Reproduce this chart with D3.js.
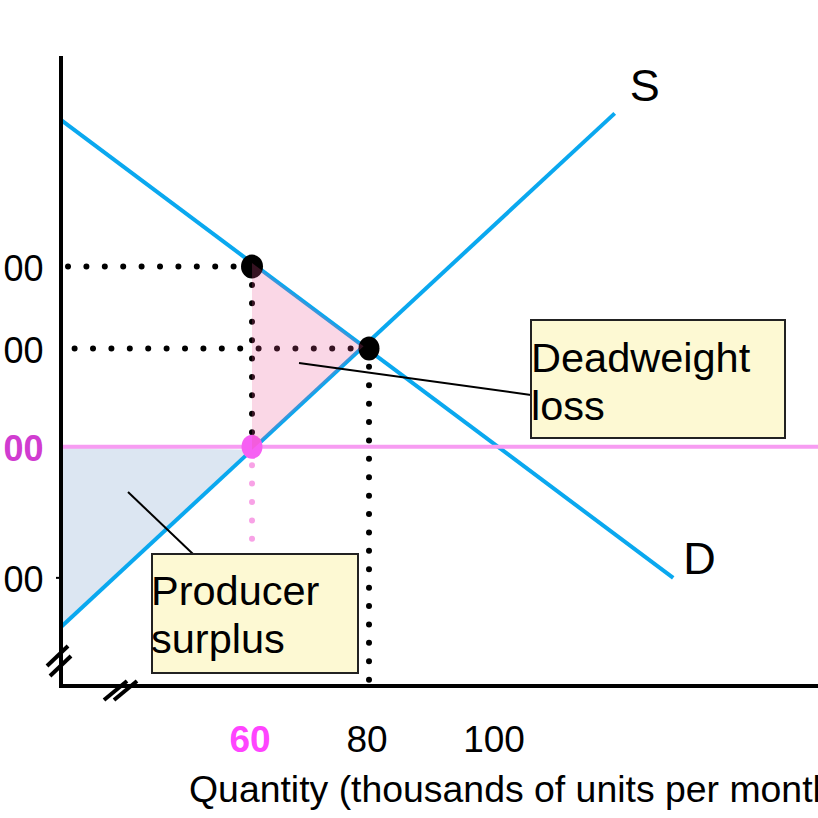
<!DOCTYPE html>
<html>
<head>
<meta charset="utf-8">
<script src="https://cdn.jsdelivr.net/npm/d3@7/dist/d3.min.js"></script>
<style>
  html, body { margin: 0; padding: 0; background: #ffffff; overflow: hidden; }
  svg { display: block; }
  text { font-family: "Liberation Sans", Arial, Helvetica, sans-serif; }
</style>
</head>
<body>
<svg id="chart" width="818" height="818"></svg>
<script>
// ---------------- data ----------------
const qTicks = [60, 80, 100];
const qTickLabels = ["60", "80", "100"];
const priceTicks = [800, 1600, 2200, 2700];
// only the last two digits of each price label are visible in the cropped original
const priceTickLabels = ["00", "00", "00", "00"];
const supplyCurve = [[27.35, 500], [122, 3635]];
const demandCurve = [[27.5, 3590], [132, 800]];
const ceilingPrice = 1600;
const ceilingQty = 60;
const demandPriceAtCeiling = 2700;
const equilibrium = [80, 2200];
const curveLabels = ["S", "D"];
const annotations = [["Deadweight", "loss"], ["Producer", "surplus"]];
const xTitle = "Quantity (thousands of units per month)";

// ---------------- scales ----------------
const svg = d3.select("#chart");
const x = d3.scaleLinear().domain([27.35, 156.75]).range([61, 818]);
const y = d3.scaleLinear().domain([140, 3985]).range([686, 56]);

const blue = "#0aa8ef";
const lineFn = d3.line().x(d => x(d[0])).y(d => y(d[1]));

function interp(curve, q) {
  const [a, b] = curve;
  return a[1] + (b[1] - a[1]) * (q - a[0]) / (b[0] - a[0]);
}
function slope(c) { return (c[1][1] - c[0][1]) / (c[1][0] - c[0][0]); }
const sS = slope(supplyCurve), sD = slope(demandCurve);
const qX = (demandCurve[0][1] - sD * demandCurve[0][0] - supplyCurve[0][1] + sS * supplyCurve[0][0]) / (sS - sD);
const pX = interp(supplyCurve, qX);
const qMin = x.domain()[0];
const pMin = y.domain()[0];

// ---------------- producer surplus area ----------------
svg.append("path")
  .attr("d", lineFn([[qMin, ceilingPrice], [ceilingQty, interp(supplyCurve, ceilingQty)], [qMin, interp(supplyCurve, qMin)]]) + "Z")
  .attr("fill", "rgb(80,130,190)").attr("fill-opacity", 0.2);

// ---------------- dotted guide lines ----------------
function dotted(pts, color) {
  svg.append("path").attr("d", lineFn(pts))
    .attr("fill", "none").attr("stroke", color).attr("stroke-width", 6)
    .attr("stroke-linecap", "round").attr("stroke-dasharray", "0 18.4");
}
dotted([[ceilingQty, demandPriceAtCeiling], [qMin, demandPriceAtCeiling]], "#000");
dotted([[equilibrium[0], equilibrium[1]], [qMin, equilibrium[1]]], "#000");
dotted([[ceilingQty, demandPriceAtCeiling], [ceilingQty, ceilingPrice]], "#000");
dotted([[ceilingQty, ceilingPrice], [ceilingQty, y.invert(650)]], "#f8a2e6");
dotted([[equilibrium[0], equilibrium[1]], [equilibrium[0], pMin]], "#000");

// ---------------- curves ----------------
svg.append("path").attr("d", lineFn(supplyCurve)).attr("fill", "none")
  .attr("stroke", blue).attr("stroke-width", 4);
svg.append("path").attr("d", lineFn(demandCurve)).attr("fill", "none")
  .attr("stroke", blue).attr("stroke-width", 4);

// price ceiling line
svg.append("line")
  .attr("x1", x(qMin)).attr("x2", x(x.domain()[1]))
  .attr("y1", y(ceilingPrice)).attr("y2", y(ceilingPrice))
  .attr("stroke", "#f79cf2").attr("stroke-width", 4);

// ---------------- points ----------------
svg.append("ellipse").attr("cx", x(ceilingQty)).attr("cy", y(demandPriceAtCeiling))
  .attr("rx", 11).attr("ry", 12).attr("fill", "#000");
svg.append("ellipse").attr("cx", x(equilibrium[0])).attr("cy", y(equilibrium[1]))
  .attr("rx", 10.5).attr("ry", 12).attr("fill", "#000");
svg.append("ellipse").attr("cx", x(ceilingQty)).attr("cy", y(ceilingPrice))
  .attr("rx", 10.5).attr("ry", 12).attr("fill", "#f660f3");

// ---------------- deadweight loss area (translucent, on top) ----------------
svg.append("path")
  .attr("d", lineFn([[ceilingQty, interp(demandCurve, ceilingQty)], [qX, pX], [ceilingQty, interp(supplyCurve, ceilingQty)]]) + "Z")
  .attr("fill", "rgb(232,84,148)").attr("fill-opacity", 0.23);

// ---------------- axes ----------------
svg.append("line").attr("x1", 61).attr("x2", 61).attr("y1", 56).attr("y2", 688)
  .attr("stroke", "#000").attr("stroke-width", 4);
svg.append("line").attr("x1", 59).attr("x2", 818).attr("y1", 686).attr("y2", 686)
  .attr("stroke", "#000").attr("stroke-width", 4);
svg.append("line").attr("x1", 56).attr("x2", 61)
  .attr("y1", y(priceTicks[0])).attr("y2", y(priceTicks[0]))
  .attr("stroke", "#000").attr("stroke-width", 2);
// axis breaks
[[0, 0], [3, 10]].forEach(o => {
  svg.append("line").attr("x1", 47 + o[0]).attr("y1", 666 + o[1]).attr("x2", 68 + o[0]).attr("y2", 646 + o[1])
    .attr("stroke", "#000").attr("stroke-width", 4);
});
[[0, 0], [10, 0]].forEach(o => {
  svg.append("line").attr("x1", 104 + o[0]).attr("y1", 700).attr("x2", 127 + o[0]).attr("y2", 681)
    .attr("stroke", "#000").attr("stroke-width", 4);
});

// y tick labels
svg.selectAll("text.ylab").data(priceTicks).enter().append("text")
  .attr("class", "ylab")
  .attr("x", 43.5).attr("y", d => y(d) + 2)
  .attr("text-anchor", "end").attr("dominant-baseline", "central")
  .attr("font-size", 36)
  .attr("font-weight", d => d === ceilingPrice ? "bold" : "normal")
  .attr("fill", d => d === ceilingPrice ? "#d03cd0" : "#000")
  .text((d, i) => priceTickLabels[i]);

// x tick labels
svg.selectAll("text.xlab").data(qTicks).enter().append("text")
  .attr("class", "xlab")
  .attr("x", d => x(d) - 2).attr("y", 752)
  .attr("dx", (d, i) => i === qTicks.length - 1 ? 10 : 0)
  .attr("text-anchor", "middle")
  .attr("font-size", 37)
  .attr("font-weight", d => d === ceilingQty ? "bold" : "normal")
  .attr("fill", d => d === ceilingQty ? "#ff44ff" : "#000")
  .text((d, i) => qTickLabels[i]);

svg.append("text").attr("x", 189).attr("y", 802).attr("font-size", 37.4)
  .attr("fill", "#000").text(xTitle);

// curve labels
svg.append("text").attr("x", x(supplyCurve[1][0]) + 15).attr("y", y(supplyCurve[1][1]) - 12)
  .attr("font-size", 45).attr("fill", "#000").text(curveLabels[0]);
svg.append("text").attr("x", x(demandCurve[1][0]) + 10).attr("y", y(demandCurve[1][1]) - 4)
  .attr("font-size", 45).attr("fill", "#000").text(curveLabels[1]);

// ---------------- annotation boxes ----------------
function box(bx, by, bw, bh, lines, tx, ty, lh, leader) {
  svg.append("line").attr("x1", leader[0]).attr("y1", leader[1]).attr("x2", leader[2]).attr("y2", leader[3])
    .attr("stroke", "#000").attr("stroke-width", 2);
  svg.append("rect").attr("x", bx).attr("y", by).attr("width", bw).attr("height", bh)
    .attr("fill", "#fdf9d3").attr("stroke", "#222").attr("stroke-width", 2);
  lines.forEach((t, i) => {
    svg.append("text").attr("x", tx).attr("y", ty + i * lh).attr("font-size", 41.5)
      .attr("fill", "#000").text(t);
  });
}
box(531, 320, 254, 118, annotations[0], 531, 372, 48, [299, 363, 531, 395]);
box(152, 554, 206, 119, annotations[1], 151, 605, 48, [128, 492, 193, 554]);
</script>
</body>
</html>
